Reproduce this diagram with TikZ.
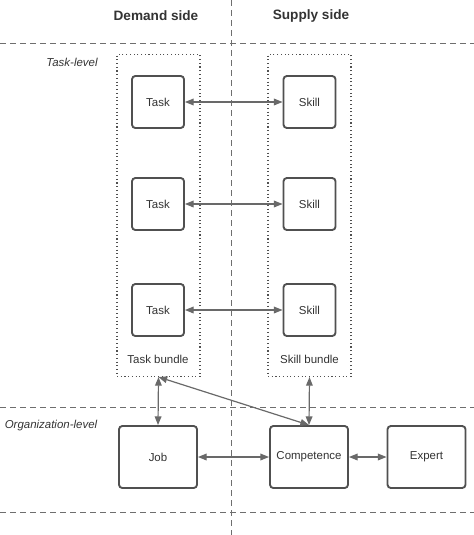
\documentclass[tikz,border=0pt]{standalone}
\usepackage{fontspec}
\setmainfont{Liberation Sans}
\usetikzlibrary{arrows.meta,positioning}
\definecolor{ink}{RGB}{51,51,51}
\definecolor{edge}{RGB}{80,80,80}
\definecolor{wire}{RGB}{105,105,105}
\definecolor{rule}{RGB}{110,110,110}
\begin{document}
\begin{tikzpicture}[x=0.75pt,y=-0.75pt,>={Triangle[length=6.5pt,width=5pt]},
  font=\fontsize{8.6}{10}\selectfont,text=ink,
  item/.style={draw=edge,line width=1.4pt,rounded corners=2.5pt,fill=white,
               minimum width=39pt,minimum height=39pt,inner sep=1pt},
  unit/.style={item,minimum width=58.5pt,minimum height=46.5pt},
  bundle/.style={draw=edge,dotted,line width=0.8pt,minimum width=62.25pt,
                 minimum height=241.5pt,inner sep=0pt},
  sep/.style={draw=rule,dash pattern=on 4.5pt off 3pt,line width=0.75pt},
  head/.style={font=\fontsize{10.2}{12}\selectfont\bfseries},
  tier/.style={font=\fontsize{8.6}{10}\selectfont\itshape},
  arr/.style={<->,draw=wire,line width=0.9pt}]
\useasboundingbox (0,0) rectangle (474,535);
% separators
\draw[sep] (231,0) -- (231,535);
\draw[sep] (0,44) -- (474,44);
\draw[sep] (0,407) -- (474,407);
\draw[sep] (0,512) -- (474,512);
% headings
\node[head] (dem) at (156,16) {Demand side};
\node[head] (sup) at (311,16) {Supply side};
\node[tier] (tl) at (72,62) {Task-level};
\node[tier] (ol) at (51,426) {Organization-level};
% bundles
\node[bundle] (tb) at (158.5,215.5) {};
\node[bundle] (sb) at (309.5,215.5) {};
\node (tbl) at (158,359) {Task bundle};
\node (sbl) at (309.5,359) {Skill bundle};
% task and skill boxes
\node[item] (t1) at (158,102) {Task};
\node[item] (t2) at (158,204) {Task};
\node[item] (t3) at (158,310) {Task};
\node[item] (s1) at (309.5,102) {Skill};
\node[item] (s2) at (309.5,204) {Skill};
\node[item] (s3) at (309.5,310) {Skill};
% organization level
\node[unit] (job) at (158,457) {Job};
\node[unit] (comp) at (309,457) {Competence};
\node[unit] (exp) at (426.5,457) {Expert};
\draw[arr] (t1) -- (s1);
\draw[arr] (t2) -- (s2);
\draw[arr] (t3) -- (s3);
\draw[arr] (tb.south) -- (job.north);
\draw[arr] (sb.south) -- (comp.north);
\draw[arr] (tb.south) -- (comp.north);
\draw[arr] (job) -- (comp);
\draw[arr] (comp) -- (exp);
\end{tikzpicture}
\end{document}
